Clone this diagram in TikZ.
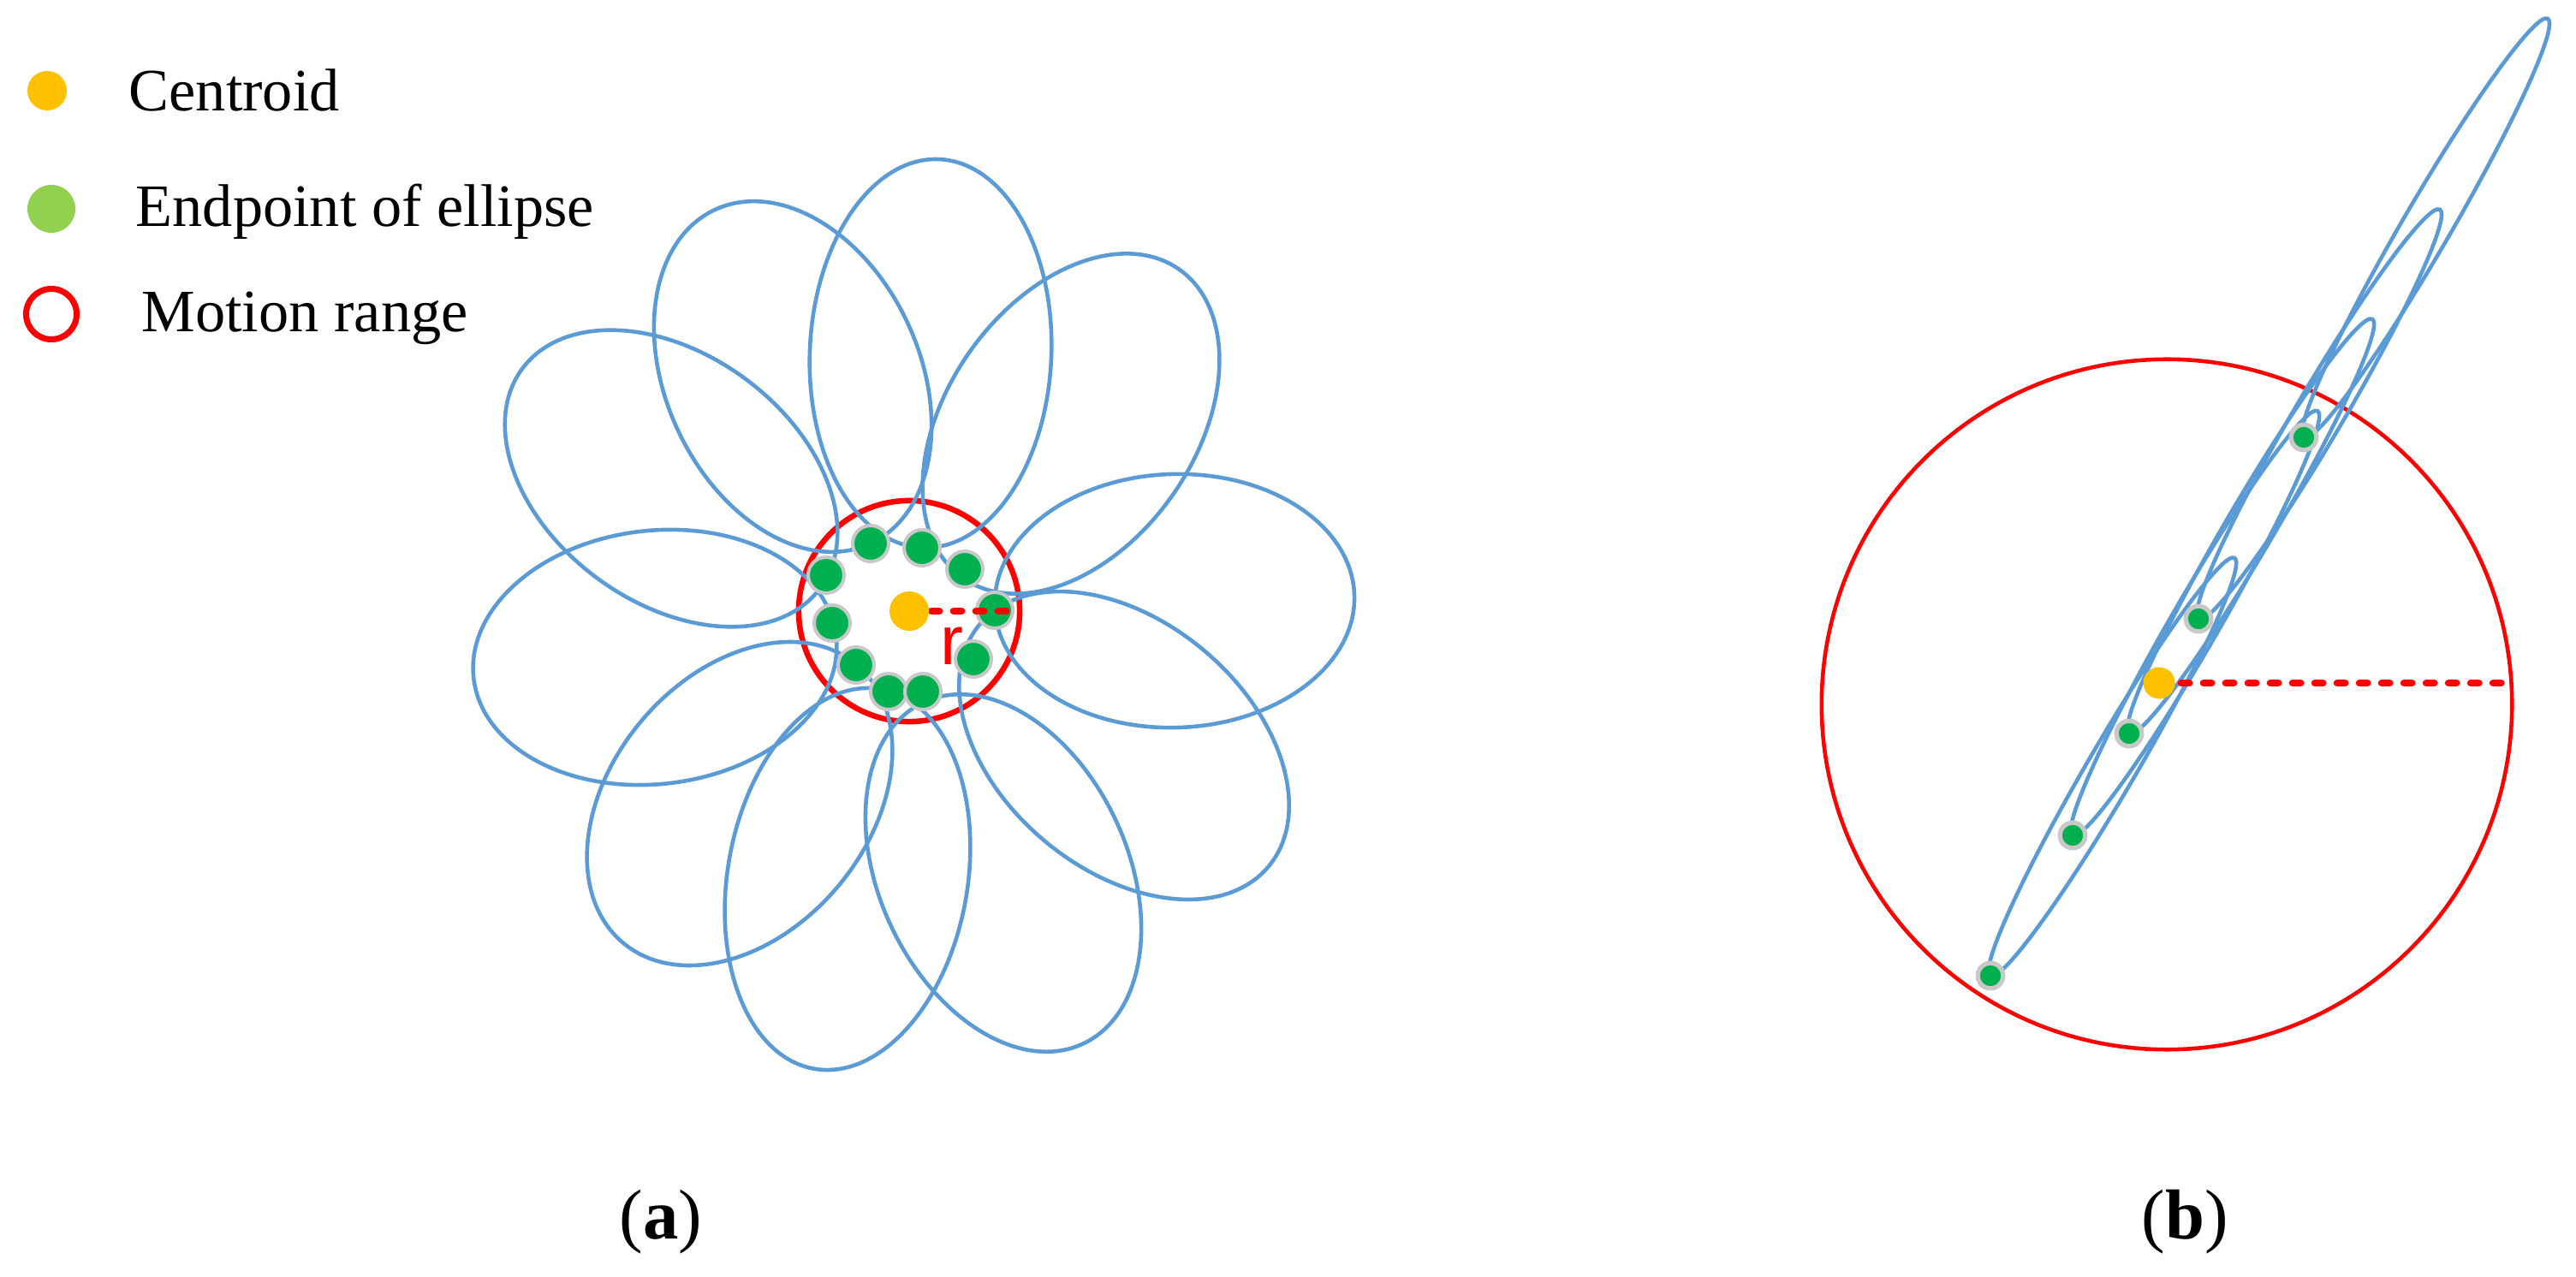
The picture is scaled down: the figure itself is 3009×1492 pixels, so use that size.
\documentclass[tikz,border=0pt]{standalone}
\usepackage{fontspec}
\setmainfont{Liberation Serif}
\newfontfamily\rfont{Liberation Sans}
\usepackage{xcolor}
\usepackage{tikz}
\usetikzlibrary{positioning,calc}
\definecolor{petalblue}{HTML}{5B9BD5}
\definecolor{centroidyellow}{HTML}{FFC000}
\definecolor{endgreen}{HTML}{00B050}
\definecolor{keygreen}{HTML}{92D050}
\definecolor{ringgray}{HTML}{C8C8C8}
\def\rangeA{(cenA) circle (1.29cm)}
\def\rangeB{(rngB) circle (4.03cm)}
\tikzset{
petal/.style={draw=petalblue, line width=1.3pt},
endpt/.style={fill=endgreen, draw=ringgray, line width=1.15pt},
small endpt/.style={fill=endgreen, draw=ringgray, line width=1.5pt},
radius line/.style={draw=red, line width=2.5pt, line cap=round, dash pattern=on 0.09cm off 0.17cm},
key text/.style={font=\fontsize{20}{24}\selectfont, anchor=base west, inner sep=0pt},
sub label/.style={font=\fontsize{23.5}{28}\selectfont, anchor=base, inner sep=0pt}
}

\begin{document}
\begin{tikzpicture}[x=0.01cm,y=-0.01cm]
	\useasboundingbox (0,0) rectangle (3009,1492);
	% legend
	\fill[centroidyellow] (55,106) circle (0.23cm);
	\fill[keygreen] (60,244) circle (0.28cm);
	\draw[red, line width=2pt] (60,367) circle (0.295cm);
	\node[key text] (keyC) at (150,130) {Centroid};
	\node[key text] (keyE) at (158,265) {Endpoint of ellipse};
	\node[key text] (keyM) at (165,388) {Motion range};
	% (a) ten ellipses round the centroid
	\coordinate (cenA) at (1062,714);
	\draw[red, line width=1.85pt] \rangeA;
	\foreach \cx/\cy/\ang/\ra/\rb in {926/440/115/2.15cm/1.48cm, 1087/413/87.5/2.27cm/1.41cm,
		1251/495/55/2.20cm/1.45cm, 1372/702/1.8/2.10cm/1.48cm, 1313/871/-40/2.20cm/1.45cm,
		1172/1020/-65/2.20cm/1.45cm, 990/1027/-100/2.25cm/1.40cm, 864/939/230/2.12cm/1.50cm,
		765/768/186.6/2.13cm/1.48cm, 784/559/143.7/2.16cm/1.45cm}
		\draw[petal, rotate around={\ang:(\cx,\cy)}] (\cx,\cy) ellipse [x radius=\ra, y radius=\rb];
	\foreach \p in {(1017,635),(1077,640),(1127,665),(965,672),(1162,713),
		(972,728),(1137,770),(1000,777),(1038,808),(1078,808)}
		\draw[endpt] \p circle (0.21cm);
	\draw[radius line] (cenA) -- (1191,714);
	\fill[centroidyellow] (cenA) circle (0.23cm);
	\node[text=red, font=\rfont\fontsize{23}{26}\selectfont, anchor=base west, inner sep=0pt] (rlbl) at (1098,777) {r};
	% (b) five equal thin ellipses on one axis
	\coordinate (rngB) at (2531,823);
	\coordinate (cenB) at (2522,798);
	\draw[red, line width=1.3pt] \rangeB;
	\foreach \cx/\cy/\ang/\ra in {2467.5/896/59.7/2.826cm, 2564/728/60.0/2.86cm,
		2629/615/59.6/2.806cm, 2709/484/59.5/2.775cm, 2833.5/266.5/59.8/2.83cm}
		\draw[petal, rotate around={\ang:(\cx,\cy)}] (\cx,\cy) ellipse [x radius=\ra, y radius=0.28cm];
	\foreach \p in {(2691,511),(2568,723),(2487,857),(2421,976),(2325,1140)}
		\draw[small endpt] \p circle (0.148cm);
	\draw[radius line] (cenB) -- (2934,798);
	\fill[centroidyellow] (cenB) circle (0.185cm);
	% sub-figure labels
	\node[sub label] (subA) at (772,1447) {(\textbf{a})};
	\node[sub label] (subB) at (2552,1447) {(\textbf{b})};
\end{tikzpicture}
\end{document}
